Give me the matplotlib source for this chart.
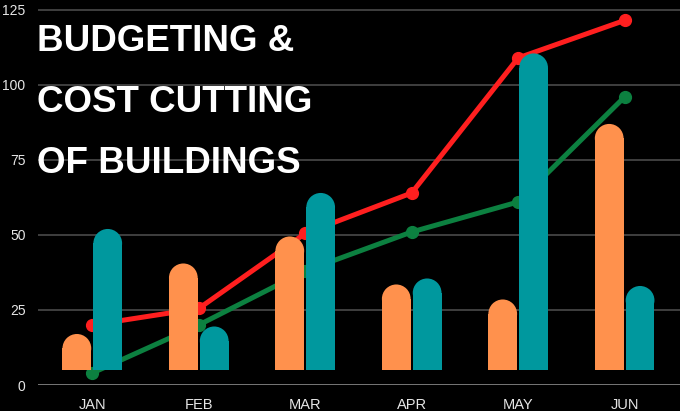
import matplotlib
matplotlib.use('Agg')
import matplotlib.pyplot as plt
from matplotlib.patches import Ellipse
import numpy as np

# === Data ===
months = ['JAN', 'FEB', 'MAR', 'APR', 'MAY', 'JUN']
orange_bars = [17, 40.5, 49.5, 33.5, 28.5, 87]
teal_bars = [52, 19.5, 64, 35.5, 110.5, 33]
red_line = [20, 25.5, 50.5, 64, 109, 121.5]
green_line = [4, 20, 38, 51, 61, 96]
bar_base = 5
y_ticks = [0, 25, 50, 75, 100, 125]
title_lines = ['BUDGETING &', 'COST CUTTING', 'OF BUILDINGS']

ORANGE = '#FF914D'
TEAL = '#00989E'
RED = '#FF1F1F'
GREEN = '#0C8040'

fig = plt.figure(figsize=(6.8, 4.11), dpi=100, facecolor='black')
ax = fig.add_axes([38 / 680, 26 / 411, 642 / 680, 385 / 411])
ax.set_facecolor('black')
ax.set_xlim(-0.51, 5.52)
ax.set_ylim(0, 128.3)

x = np.arange(len(months))
bw = 0.27
off = 0.145

# gridlines
for t in y_ticks[1:]:
    ax.axhline(t, color='#4a4a4a', linewidth=1.2, zorder=1)
ax.axhline(0, color='#9a9a9a', linewidth=1.8, zorder=1)

# lines
ax.plot(x, red_line, color=RED, linewidth=3.6, marker='o', markersize=8.5, zorder=2)
ax.plot(x, green_line, color=GREEN, linewidth=3.6, marker='o', markersize=8.5, zorder=2)

# rounded-top bars: rectangle + ellipse cap (circle on screen)
fig.canvas.draw()
px_x = ax.transData.transform((1, 0))[0] - ax.transData.transform((0, 0))[0]
px_y = ax.transData.transform((0, 1))[1] - ax.transData.transform((0, 0))[1]
rx = bw / 2
ry = rx * px_x / px_y


def rounded_bars(xs, heights, color):
    for xi, h in zip(xs, heights):
        ax.bar(xi, h - ry - bar_base, width=bw, bottom=bar_base, color=color,
               linewidth=0, zorder=3)
        ax.add_patch(Ellipse((xi, h - ry), bw, 2 * ry, color=color,
                             linewidth=0, zorder=3))


rounded_bars(x - off, orange_bars, ORANGE)
rounded_bars(x + off, teal_bars, TEAL)

# axes styling
for s in ax.spines.values():
    s.set_visible(False)
ax.set_xticks(x)
ax.set_xticklabels(months)
ax.set_yticks(y_ticks)
ax.tick_params(axis='both', length=0, colors='#e6e6e6')
ax.tick_params(axis='x', pad=9, labelsize=10.5)
ax.tick_params(axis='y', pad=9, labelsize=10)
for lab in ax.get_xticklabels() + ax.get_yticklabels():
    lab.set_family(['Liberation Sans', 'DejaVu Sans'])

# title block
baselines = [51, 112, 173]
for txt, yb in zip(title_lines, baselines):
    fig.text(37 / 680, 1 - yb / 411, txt, color='white', fontsize=26.5,
             fontweight='bold', family=['Liberation Sans', 'DejaVu Sans'],
             ha='left', va='baseline', zorder=5)

fig.savefig('out.png', dpi=100, facecolor='black')
